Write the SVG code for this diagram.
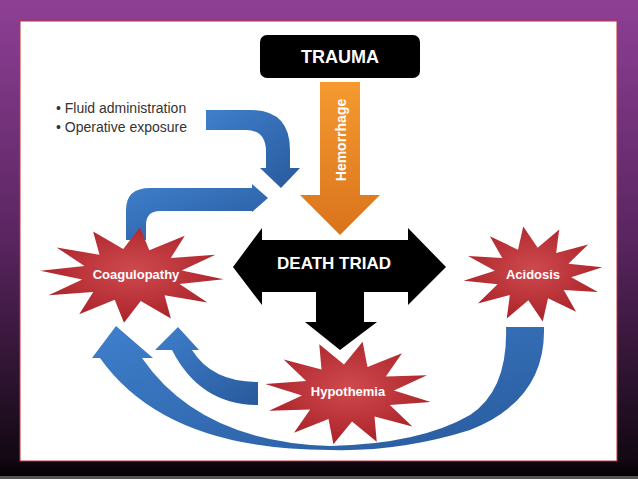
<svg xmlns="http://www.w3.org/2000/svg" xmlns:xlink="http://www.w3.org/1999/xlink" width="638" height="479" viewBox="0 0 638 479">
<style>
.lbl{font-family:"Liberation Sans",Arial,sans-serif;font-weight:bold;fill:#fff;text-anchor:middle}
.bul{font-family:"Liberation Sans",Arial,sans-serif;font-size:14px;fill:#333}
.blue{fill:url(#bl)}
</style>
<defs>
<linearGradient id="bg" x1="0" y1="0" x2="0" y2="1">
<stop offset="0" stop-color="#8e3f95"/><stop offset="0.5" stop-color="#5a2560"/><stop offset="0.96" stop-color="#120812"/><stop offset="1" stop-color="#000"/>
</linearGradient>
<linearGradient id="bl" x1="0" y1="0" x2="1" y2="1">
<stop offset="0" stop-color="#3f7fcc"/><stop offset="1" stop-color="#285a9c"/>
</linearGradient>
<linearGradient id="or" x1="0" y1="0" x2="0" y2="1">
<stop offset="0" stop-color="#f59a30"/><stop offset="1" stop-color="#d9731c"/>
</linearGradient>
<radialGradient id="rd" cx="0.5" cy="0.45" r="0.6">
<stop offset="0" stop-color="#cf4a4e"/><stop offset="1" stop-color="#a61f26"/>
</radialGradient>
<polygon id="star" points="1,0 .531,.142 .866,.5 .389,.389 .5,.866 .142,.531 0,1 -.142,.531 -.5,.866 -.389,.389 -.866,.5 -.531,.142 -1,0 -.531,-.142 -.866,-.5 -.389,-.389 -.5,-.866 -.142,-.531 0,-1 .142,-.531 .5,-.866 .389,-.389 .866,-.5 .531,-.142" fill="url(#rd)"/>
</defs>
<rect width="638" height="479" fill="url(#bg)"/>
<rect x="0" y="476" width="638" height="3" fill="#555"/>
<rect x="20" y="21" width="597" height="440" fill="#fff" stroke="#c0303a" stroke-width="1"/>

<g id="connectors">
<path class="blue" d="M206,110 H250 Q290,110 290,150 V168 H300 L281,188 L260,168 H266 V152 Q266,130 246,130 H206 Z"/>
<path class="blue" d="M126,240 V210 Q126,188 150,188 H252 V184 L268,198 L252,212 V211 H160 Q146,211 146,225 V240 Z"/>
<path class="blue" d="M506,327 H544 Q546,400 470,430 Q400,452 330,450 Q165,450 100,358 H92 L116,326 L153,358 H142 Q200,442 330,446 Q420,444 470,415 Q508,390 506,327 Z"/>
<path class="blue" d="M258,382 V405 Q200,405 172,350 H155 L178,327 L199,350 H192 Q212,382 258,382 Z"/>
<path d="M320,82 H360 V195 H380 L340,235 L300,195 H320 Z" fill="url(#or)"/>
<text class="lbl" font-size="14" transform="translate(346,140) rotate(-90)">Hemorrhage</text>
</g>

<g id="trauma">
<rect x="260" y="35" width="160" height="43" rx="7" fill="#000"/>
<text class="lbl" x="340" y="63" font-size="18">TRAUMA</text>
</g>

<g id="death-triad">
<path d="M233,267 L262,228 V240 H408 V228 L446,267 L408,305 V292 H364 V322 H377 L340,350 L305,322 H316 V292 H262 V305 Z" fill="#000"/>
<text class="lbl" x="334" y="269" font-size="17" font-weight="normal">DEATH TRIAD</text>
</g>

<g id="coagulopathy">
<use xlink:href="#star" transform="translate(132,275) scale(92,48) rotate(5)"/>
<text class="lbl" x="136" y="279" font-size="13">Coagulopathy</text>
</g>
<g id="acidosis">
<use xlink:href="#star" transform="translate(533,274) scale(70,48) rotate(-8)"/>
<text class="lbl" x="533" y="279" font-size="13">Acidosis</text>
</g>
<g id="hypothemia">
<use xlink:href="#star" transform="translate(348,393) scale(84,52) rotate(10)"/>
<text class="lbl" x="348" y="396" font-size="13">Hypothemia</text>
</g>

<g id="notes">
<text class="bul" x="56" y="113">• Fluid administration</text>
<text class="bul" x="56" y="132">• Operative exposure</text>
</g>
</svg>
